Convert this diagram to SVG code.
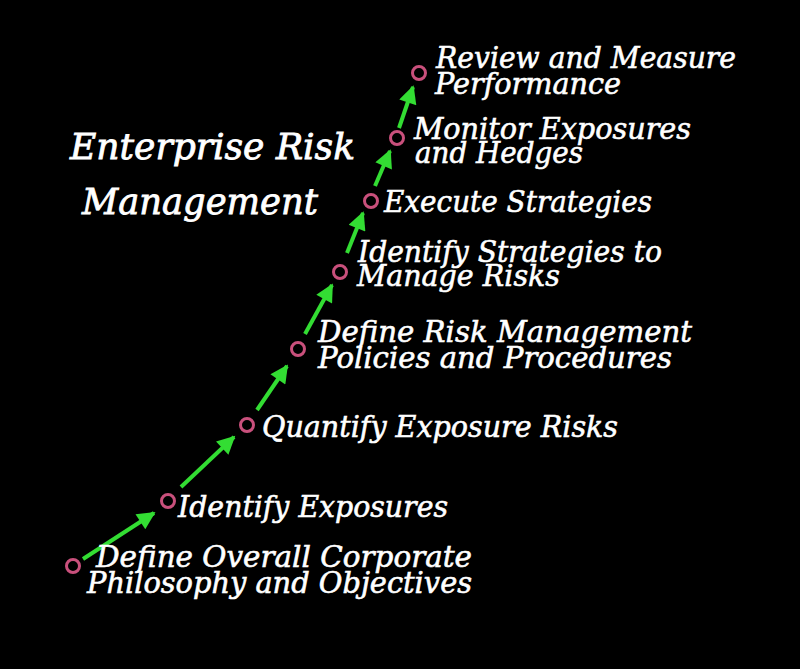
<svg xmlns="http://www.w3.org/2000/svg" width="800" height="669" viewBox="0 0 800 669">
<style>
text{font-family:"DejaVu Serif","Liberation Serif",serif;font-style:italic;fill:#ffffff;stroke:#ffffff;stroke-width:0.6}
.t{font-size:29.5px}
.h{font-size:35px;stroke-width:0.8}
.c{fill:none;stroke:#c9507c;stroke-width:3}
.a{stroke:#33dd33;stroke-width:4;fill:none;marker-end:url(#ah)}
</style>
<defs>
<marker id="ah" viewBox="0 0 10 10" refX="9" refY="5" markerWidth="5" markerHeight="4.5" orient="auto" markerUnits="strokeWidth">
<path d="M0,0 L10,5 L0,10 z" fill="#33dd33"/>
</marker>
</defs>
<rect width="800" height="669" fill="#000000"/>
<g id="title">
<text class="h" x="70" y="159" textLength="285" lengthAdjust="spacingAndGlyphs">Enterprise Risk</text>
<text class="h" x="82" y="214" textLength="236" lengthAdjust="spacingAndGlyphs">Management</text>
</g>
<g id="connectors">
<line class="a" x1="83" y1="559" x2="154" y2="513"/>
<line class="a" x1="181" y1="487" x2="234" y2="437"/>
<line class="a" x1="257" y1="410" x2="287" y2="366"/>
<line class="a" x1="305" y1="334" x2="332" y2="285"/>
<line class="a" x1="347" y1="253" x2="363" y2="213"/>
<line class="a" x1="375" y1="186" x2="390" y2="151"/>
<line class="a" x1="399" y1="128" x2="413" y2="87"/>
</g>
<g id="n1"><circle class="c" cx="73" cy="566" r="6.5"/>
<text class="t" x="96" y="567" textLength="376" lengthAdjust="spacingAndGlyphs">Define Overall Corporate</text>
<text class="t" x="87" y="593" textLength="385" lengthAdjust="spacingAndGlyphs">Philosophy and Objectives</text></g>
<g id="n2"><circle class="c" cx="168" cy="501" r="6.5"/>
<text class="t" x="178" y="517" textLength="270" lengthAdjust="spacingAndGlyphs">Identify Exposures</text></g>
<g id="n3"><circle class="c" cx="247" cy="425" r="6.5"/>
<text class="t" x="262" y="437" textLength="356" lengthAdjust="spacingAndGlyphs">Quantify Exposure Risks</text></g>
<g id="n4"><circle class="c" cx="298" cy="349" r="6.5"/>
<text class="t" x="318" y="342" textLength="374" lengthAdjust="spacingAndGlyphs">Define Risk  Management</text>
<text class="t" x="318" y="368" textLength="354" lengthAdjust="spacingAndGlyphs">Policies and Procedures</text></g>
<g id="n5"><circle class="c" cx="340" cy="272" r="6.5"/>
<text class="t" x="358" y="262" textLength="304" lengthAdjust="spacingAndGlyphs">Identify Strategies to</text>
<text class="t" x="357" y="286" textLength="203" lengthAdjust="spacingAndGlyphs">Manage Risks</text></g>
<g id="n6"><circle class="c" cx="371" cy="201" r="6.5"/>
<text class="t" x="384" y="212" textLength="268" lengthAdjust="spacingAndGlyphs">Execute Strategies</text></g>
<g id="n7"><circle class="c" cx="397" cy="138" r="6.5"/>
<text class="t" x="414" y="139" textLength="277" lengthAdjust="spacingAndGlyphs">Monitor Exposures</text>
<text class="t" x="415" y="163" textLength="168" lengthAdjust="spacingAndGlyphs">and Hedges</text></g>
<g id="n8"><circle class="c" cx="419" cy="73" r="6.5"/>
<text class="t" x="436" y="68" textLength="300" lengthAdjust="spacingAndGlyphs">Review and Measure</text>
<text class="t" x="435" y="94" textLength="186" lengthAdjust="spacingAndGlyphs">Performance</text></g>
</svg>
